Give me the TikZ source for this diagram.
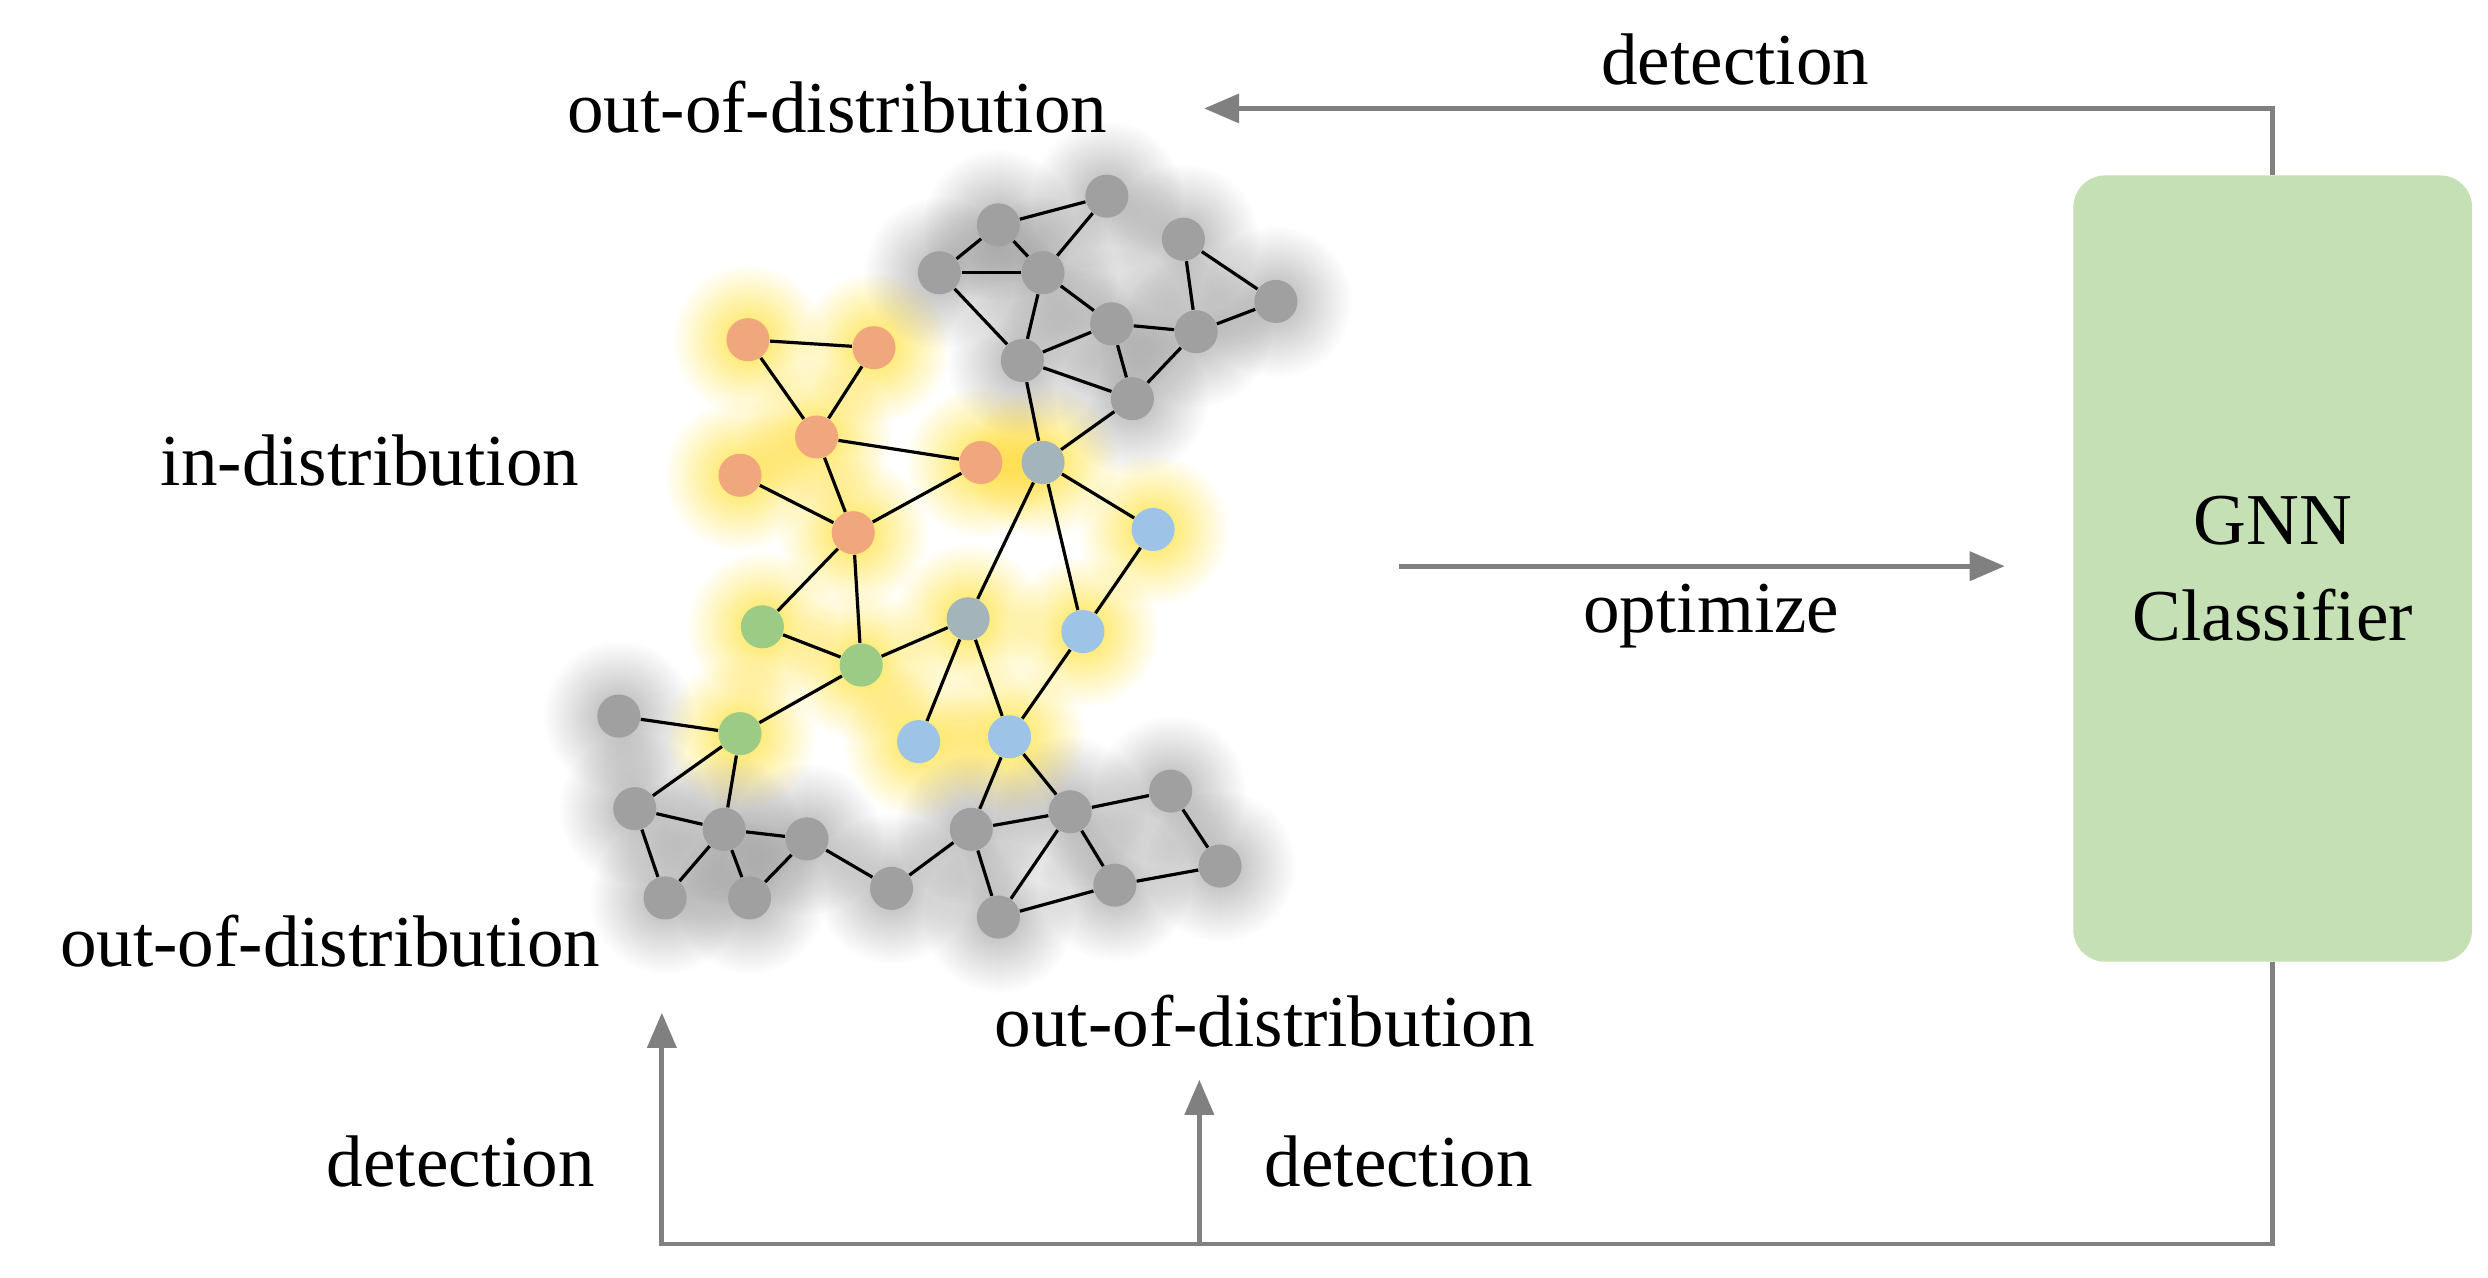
\documentclass[tikz,border=0pt]{standalone}
\usepackage{fontspec}
\setmainfont{Liberation Serif}
\usetikzlibrary{arrows.meta}
\definecolor{cgray}{HTML}{A0A0A0}
\definecolor{corange}{HTML}{F0A77E}
\definecolor{cgreen}{HTML}{9CCB86}
\definecolor{cblue}{HTML}{9DC3E6}
\definecolor{cmix}{HTML}{A3B5BB}
\definecolor{cbox}{HTML}{C5E0B4}
\definecolor{carrow}{HTML}{808080}
\begin{document}
\begin{tikzpicture}[x=0.5bp,y=-0.5bp,
  nd/.style={circle,minimum size=13.5bp,inner sep=0pt},
  gn/.style={nd,fill=cgray}, on/.style={nd,fill=corange}, grn/.style={nd,fill=cgreen},
  bn/.style={nd,fill=cblue}, mn/.style={nd,fill=cmix},
  ed/.style={line width=1bp,black},
  arr/.style={line width=1.5bp,carrow,-{Triangle[length=11bp,width=9bp]}},
  ln/.style={line width=1.5bp,carrow},
  lbl/.style={font=\fontsize{23}{26}\selectfont,inner sep=0pt}]
\useasboundingbox (0,0) rectangle (1560,801);
% glows
\begin{scope}[blend mode=multiply]
\foreach \x/\y in {694/123,626/141,589/171,654/171,742/150,800/189,697/203,750/208,641/226,710/250,398/507,454/520,506/526,417/563,470/563,559/557,609/520,671/509,734/496,626/575,699/555,765/543,388/449}
  \shade[inner color=black!30,outer color=white] (\x,\y) circle (48);
\foreach \x/\y in {469/213,548/218,512/274,464/298,615/290,535/334,478/393,540/417,464/460,654/290,607/388,723/332,679/396,576/465,633/462}
  \shade[inner color=yellow!70!orange!70,outer color=white] (\x,\y) circle (48);
\end{scope}
% nodes
\node[gn] (g1) at (694,123) {}; \node[gn] (g2) at (626,141) {};
\node[gn] (g3) at (589,171) {}; \node[gn] (g4) at (654,171) {};
\node[gn] (g5) at (742,150) {}; \node[gn] (g6) at (800,189) {};
\node[gn] (g7) at (697,203) {}; \node[gn] (g8) at (750,208) {};
\node[gn] (g9) at (641,226) {}; \node[gn] (g10) at (710,250) {};
\node[on] (o1) at (469,213) {}; \node[on] (o2) at (548,218) {};
\node[on] (o3) at (512,274) {}; \node[on] (o4) at (464,298) {};
\node[on] (o5) at (615,290) {}; \node[on] (o6) at (535,334) {};
\node[grn] (gr1) at (478,393) {}; \node[grn] (gr2) at (540,417) {};
\node[grn] (gr3) at (464,460) {};
\node[mn] (ga) at (654,290) {}; \node[mn] (ga2) at (607,388) {};
\node[bn] (b1) at (723,332) {}; \node[bn] (b2) at (679,396) {};
\node[bn] (b3) at (576,465) {}; \node[bn] (b4) at (633,462) {};
\node[gn] (gl) at (388,449) {};
\node[gn] (l1) at (398,507) {}; \node[gn] (l2) at (454,520) {};
\node[gn] (l3) at (506,526) {}; \node[gn] (l4) at (417,563) {};
\node[gn] (l5) at (470,563) {}; \node[gn] (l6) at (559,557) {};
\node[gn] (r1) at (609,520) {}; \node[gn] (r2) at (671,509) {};
\node[gn] (r3) at (734,496) {}; \node[gn] (r4) at (626,575) {};
\node[gn] (r5) at (699,555) {}; \node[gn] (r6) at (765,543) {};
% edges
\foreach \a/\b in {g2/g1,g2/g3,g2/g4,g1/g4,g3/g4,g3/g9,g4/g9,g4/g7,g9/g7,g9/g10,g7/g10,g7/g8,g10/g8,g8/g5,g5/g6,g8/g6,g9/ga,ga/g10,
  o1/o2,o1/o3,o2/o3,o3/o5,o3/o6,o4/o6,o6/o5,o6/gr1,o6/gr2,gr1/gr2,gr2/gr3,gr2/ga2,gr3/gl,
  ga/b1,ga/b2,ga/ga2,b1/b2,ga2/b3,ga2/b4,b2/b4,
  gr3/l1,gr3/l2,l1/l2,l1/l4,l2/l4,l2/l5,l2/l3,l3/l5,l3/l6,l6/r1,
  b4/r1,b4/r2,r1/r2,r1/r4,r2/r4,r2/r5,r3/r2,r3/r6,r6/r5,r4/r5}
  \draw[ed] (\a) -- (\b);
% labels
\node[lbl] (ood1) at (525,67) {out-of-distribution};
\node[lbl] (ind) at (232,289) {in-distribution};
\node[lbl] (ood2) at (207,590) {out-of-distribution};
\node[lbl] (ood3) at (793,640) {out-of-distribution};
\node[lbl] (det1) at (1088,37) {detection};
\node[lbl] (opt) at (1073,386) {optimize};
\node[lbl] (det2) at (289,728) {detection};
\node[lbl] (det3) at (877,728) {detection};
\node[fill=cbox,rounded corners=10bp,minimum width=125bp,minimum height=246.5bp,inner sep=0pt,
  font=\fontsize{23}{30}\selectfont,align=center] (gnn) at (1425,356.5) {GNN\\Classifier};
% arrows
\coordinate (t1) at (1425,68); \coordinate (t2) at (755,68);
\draw[arr] (gnn.north) -- (t1) -- (t2);
\coordinate (oa) at (877,355); \coordinate (ob) at (1257,355);
\draw[arr] (oa) -- (ob);
\coordinate (b1c) at (1425,780); \coordinate (b2c) at (415,780); \coordinate (b3c) at (415,635);
\coordinate (m1) at (752,780); \coordinate (m2) at (752,677);
\draw[arr] (gnn.south) -- (b1c) -- (b2c) -- (b3c);
\draw[arr] (m1) -- (m2);
\end{tikzpicture}
\end{document}
